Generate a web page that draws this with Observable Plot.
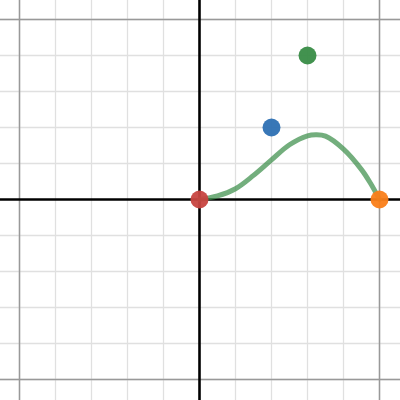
<!DOCTYPE html>
<html>
<head>
<meta charset="utf-8">
<script src="https://cdn.jsdelivr.net/npm/d3@7"></script>
<script src="https://cdn.jsdelivr.net/npm/@observablehq/plot@0.6"></script>
<style>
  html, body { margin: 0; padding: 0; background: #fff; }
  svg { display: block; }
</style>
</head>
<body>
<div id="chart"></div>
<script>
const minorTicks = [-5, -4, -3, -2, -1, 1, 2, 3, 4, 5];
const majorTicks = [-5, 5];
const axisTicks = [0];

const curveX = [0, 0.5, 1, 1.5, 2, 2.5, 3, 3.25, 3.5, 4, 4.5, 4.75, 5];
const curveY = [0, 0.1, 0.3, 0.67, 1.1, 1.52, 1.77, 1.8, 1.76, 1.4, 0.83, 0.45, 0];

const pointX = [0, 2, 3, 5];
const pointY = [0, 2, 4, 0];
const pointColor = ["#c74440", "#2d70b3", "#388c46", "#fa7e19"];

const curve = curveX.map((x, i) => ({x, y: curveY[i]}));
const points = pointX.map((x, i) => ({x, y: pointY[i], c: pointColor[i]}));

const chart = Plot.plot({
  width: 400,
  height: 400,
  margin: 0,
  x: {domain: [-199 / 36, 201 / 36], axis: null},
  y: {domain: [-201 / 36, 199 / 36], axis: null},
  marks: [
    Plot.ruleX(minorTicks, {stroke: "#e0e0e0", strokeWidth: 1.3}),
    Plot.ruleY(minorTicks, {stroke: "#e0e0e0", strokeWidth: 1.3}),
    Plot.ruleX(majorTicks, {stroke: "#999", strokeWidth: 1.5}),
    Plot.ruleY(majorTicks, {stroke: "#999", strokeWidth: 1.5}),
    Plot.ruleX(axisTicks, {stroke: "#000", strokeWidth: 2.6}),
    Plot.ruleY(axisTicks, {stroke: "#000", strokeWidth: 2.6}),
    Plot.line(curve, {x: "x", y: "y", curve: d3.curveCatmullRom.alpha(0.5), stroke: "#388c46", strokeOpacity: 0.7, strokeWidth: 5, strokeLinecap: "round", strokeLinejoin: "round"}),
    Plot.dot(points, {x: "x", y: "y", r: 9, fill: "c", fillOpacity: 0.95, stroke: "none"})
  ]
});
document.getElementById("chart").appendChild(chart);
</script>
</body>
</html>
